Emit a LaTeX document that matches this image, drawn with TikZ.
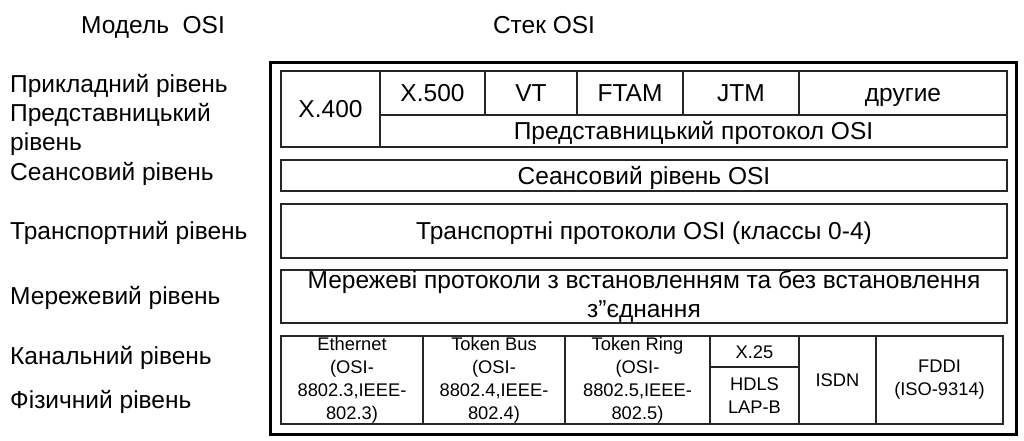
\documentclass[tikz,border=0pt]{standalone}
\usepackage{fontspec}
\setmainfont{Liberation Sans}
\begin{document}
\begin{tikzpicture}[x=1pt,y=-1pt,
  cell/.style={draw=black!85, line width=1.2pt, inner sep=0pt, align=center,
    font=\fontsize{24.5}{29}\selectfont},
  one/.style={text height=17.5pt, text depth=0pt},
  small/.style={cell, font=\fontsize{18.3}{23}\selectfont},
  lbl/.style={anchor=base west, inner sep=0pt, font=\fontsize{24.5}{29}\selectfont},
  title/.style={anchor=base, inner sep=0pt, font=\fontsize{24.5}{29}\selectfont}]
\useasboundingbox[fill=white] (0,0) rectangle (1024,440);
% titles
\node[title] (tmodel) at (153,33.5) {Модель\ \ OSI};
\node[title] (tstack) at (544,33.5) {Стек OSI};
% left labels
\node[lbl] (lapp) at (10,92) {Прикладний рівень};
\node[lbl] (lpres) at (10,121) {Представницький};
\node[lbl] (lpres2) at (10,150) {рівень};
\node[lbl] (lsess) at (10,180) {Сеансовий рівень};
\node[lbl] (ltrans) at (10,239.5) {Транспортний рівень};
\node[lbl] (lnet) at (10,304.5) {Мережевий рівень};
\node[lbl] (llink) at (10,364.5) {Канальний рівень};
\node[lbl] (lphys) at (10,408.5) {Фізичний рівень};
% outer box
\node[draw=black, line width=3pt, minimum width=746pt, minimum height=372pt, inner sep=0pt] (outer) at (643,248) {};
% application / presentation
\node[cell, one, minimum width=99pt, minimum height=76pt] (x400) at (330.5,109) {X.400};
\node[cell, one, minimum width=105pt, minimum height=44pt] (x500) at (432.5,93) {X.500};
\node[cell, one, minimum width=92pt, minimum height=44pt] (vt) at (531,93) {VT};
\node[cell, one, minimum width=106pt, minimum height=44pt] (ftam) at (630,93) {FTAM};
\node[cell, one, minimum width=116pt, minimum height=44pt] (jtm) at (741,93) {JTM};
\node[cell, one, minimum width=208pt, minimum height=44pt] (other) at (903,93) {другие};
\node[cell, one, minimum width=627pt, minimum height=32pt] (pres) at (693.5,131) {Представницький протокол OSI};
% session, transport, network
\node[cell, one, minimum width=726pt, minimum height=31pt] (sess) at (644,175.5) {Сеансовий рівень OSI};
\node[cell, one, minimum width=726pt, minimum height=54pt] (trans) at (644,231) {Транспортні протоколи OSI (классы 0-4)};
\node[cell, minimum width=726pt, minimum height=53pt] (net) at (644,296.5) {Мережеві протоколи з встановленням та без встановлення\\з”єднання};
% link / physical
\node[small, minimum width=142pt, minimum height=88pt] (eth) at (352,380) {Ethernet\\(OSI-\\8802.3,IEEE-\\802.3)};
\node[small, minimum width=142pt, minimum height=88pt] (tbus) at (494,380) {Token Bus\\(OSI-\\8802.4,IEEE-\\802.4)};
\node[small, minimum width=145pt, minimum height=88pt] (tring) at (637.5,380) {Token Ring\\(OSI-\\8802.5,IEEE-\\802.5)};
\node[small, one, text height=13.2pt, minimum width=89pt, minimum height=31pt] (x25) at (754.5,351.5) {X.25};
\node[small, minimum width=89pt, minimum height=57pt] (hdls) at (754.5,395.5) {HDLS\\LAP-B};
\node[small, one, text height=13.2pt, minimum width=77pt, minimum height=88pt] (isdn) at (837.5,380) {ISDN};
\node[small, minimum width=127pt, minimum height=88pt] (fddi) at (939.5,380) {FDDI\\(ISO-9314)};
\end{tikzpicture}
\end{document}
